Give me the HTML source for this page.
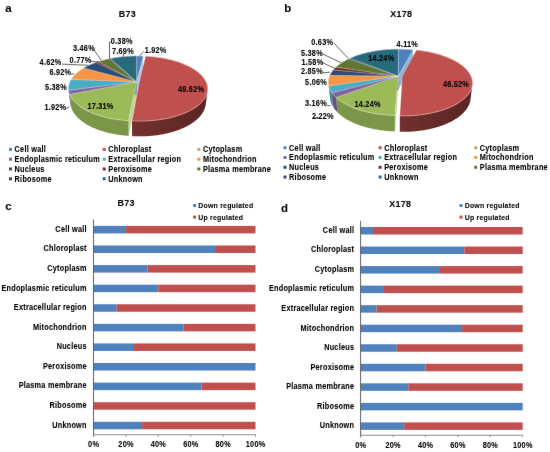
<!DOCTYPE html>
<html><head><meta charset="utf-8"><style>
html,body{margin:0;padding:0;background:#fff;width:550px;height:452px;overflow:hidden}
svg{display:block}
text{font-family:"Liberation Sans",sans-serif;font-weight:bold;stroke:#000;stroke-width:0.08px}
</style></head><body>
<svg width="550" height="452" viewBox="0 0 550 452" style="will-change:transform">
<defs><linearGradient id="a_s0" gradientUnits="userSpaceOnUse" x1="66.7" y1="0" x2="206.5" y2="0"><stop offset="0" stop-color="#3F6797"/><stop offset="0.5" stop-color="#3C6290"/><stop offset="1" stop-color="#315075"/></linearGradient>
<linearGradient id="a_s10" gradientUnits="userSpaceOnUse" x1="66.7" y1="0" x2="206.5" y2="0"><stop offset="0" stop-color="#1F5563"/><stop offset="0.5" stop-color="#1E515E"/><stop offset="1" stop-color="#18424D"/></linearGradient>
<linearGradient id="a_s9" gradientUnits="userSpaceOnUse" x1="66.7" y1="0" x2="206.5" y2="0"><stop offset="0" stop-color="#3E2F4E"/><stop offset="0.5" stop-color="#3B2D4A"/><stop offset="1" stop-color="#30253D"/></linearGradient>
<linearGradient id="a_s8" gradientUnits="userSpaceOnUse" x1="66.7" y1="0" x2="206.5" y2="0"><stop offset="0" stop-color="#4C5E26"/><stop offset="0.5" stop-color="#485924"/><stop offset="1" stop-color="#3B491E"/></linearGradient>
<linearGradient id="a_s7" gradientUnits="userSpaceOnUse" x1="66.7" y1="0" x2="206.5" y2="0"><stop offset="0" stop-color="#5F2322"/><stop offset="0.5" stop-color="#5A2120"/><stop offset="1" stop-color="#4A1B1A"/></linearGradient>
<linearGradient id="a_s6" gradientUnits="userSpaceOnUse" x1="66.7" y1="0" x2="206.5" y2="0"><stop offset="0" stop-color="#233E5E"/><stop offset="0.5" stop-color="#213B59"/><stop offset="1" stop-color="#1B3049"/></linearGradient>
<linearGradient id="a_s5" gradientUnits="userSpaceOnUse" x1="66.7" y1="0" x2="206.5" y2="0"><stop offset="0" stop-color="#C67838"/><stop offset="0.5" stop-color="#BC7235"/><stop offset="1" stop-color="#995D2B"/></linearGradient>
<linearGradient id="a_s4" gradientUnits="userSpaceOnUse" x1="66.7" y1="0" x2="206.5" y2="0"><stop offset="0" stop-color="#3C8A9E"/><stop offset="0.5" stop-color="#398396"/><stop offset="1" stop-color="#2E6B7B"/></linearGradient>
<linearGradient id="a_s1" gradientUnits="userSpaceOnUse" x1="66.7" y1="0" x2="206.5" y2="0"><stop offset="0" stop-color="#73302E"/><stop offset="0.5" stop-color="#73302E"/><stop offset="1" stop-color="#582523"/></linearGradient>
<linearGradient id="a_s3" gradientUnits="userSpaceOnUse" x1="66.7" y1="0" x2="206.5" y2="0"><stop offset="0" stop-color="#665082"/><stop offset="0.5" stop-color="#614C7B"/><stop offset="1" stop-color="#4F3E64"/></linearGradient>
<linearGradient id="a_s2" gradientUnits="userSpaceOnUse" x1="66.7" y1="0" x2="206.5" y2="0"><stop offset="0" stop-color="#7C9647"/><stop offset="0.5" stop-color="#7C9647"/><stop offset="1" stop-color="#708740"/></linearGradient>
<linearGradient id="b_s0" gradientUnits="userSpaceOnUse" x1="326.2" y1="0" x2="470.2" y2="0"><stop offset="0" stop-color="#3F6797"/><stop offset="0.5" stop-color="#3C6290"/><stop offset="1" stop-color="#315075"/></linearGradient>
<linearGradient id="b_s10" gradientUnits="userSpaceOnUse" x1="326.2" y1="0" x2="470.2" y2="0"><stop offset="0" stop-color="#1F5563"/><stop offset="0.5" stop-color="#1E515E"/><stop offset="1" stop-color="#18424D"/></linearGradient>
<linearGradient id="b_s9" gradientUnits="userSpaceOnUse" x1="326.2" y1="0" x2="470.2" y2="0"><stop offset="0" stop-color="#3E2F4E"/><stop offset="0.5" stop-color="#3B2D4A"/><stop offset="1" stop-color="#30253D"/></linearGradient>
<linearGradient id="b_s8" gradientUnits="userSpaceOnUse" x1="326.2" y1="0" x2="470.2" y2="0"><stop offset="0" stop-color="#4C5E26"/><stop offset="0.5" stop-color="#485924"/><stop offset="1" stop-color="#3B491E"/></linearGradient>
<linearGradient id="b_s7" gradientUnits="userSpaceOnUse" x1="326.2" y1="0" x2="470.2" y2="0"><stop offset="0" stop-color="#5F2322"/><stop offset="0.5" stop-color="#5A2120"/><stop offset="1" stop-color="#4A1B1A"/></linearGradient>
<linearGradient id="b_s6" gradientUnits="userSpaceOnUse" x1="326.2" y1="0" x2="470.2" y2="0"><stop offset="0" stop-color="#233E5E"/><stop offset="0.5" stop-color="#213B59"/><stop offset="1" stop-color="#1B3049"/></linearGradient>
<linearGradient id="b_s5" gradientUnits="userSpaceOnUse" x1="326.2" y1="0" x2="470.2" y2="0"><stop offset="0" stop-color="#C67838"/><stop offset="0.5" stop-color="#BC7235"/><stop offset="1" stop-color="#995D2B"/></linearGradient>
<linearGradient id="b_s1" gradientUnits="userSpaceOnUse" x1="326.2" y1="0" x2="470.2" y2="0"><stop offset="0" stop-color="#73302E"/><stop offset="0.5" stop-color="#73302E"/><stop offset="1" stop-color="#582523"/></linearGradient>
<linearGradient id="b_s4" gradientUnits="userSpaceOnUse" x1="326.2" y1="0" x2="470.2" y2="0"><stop offset="0" stop-color="#3C8A9E"/><stop offset="0.5" stop-color="#398396"/><stop offset="1" stop-color="#2E6B7B"/></linearGradient>
<linearGradient id="b_s3" gradientUnits="userSpaceOnUse" x1="326.2" y1="0" x2="470.2" y2="0"><stop offset="0" stop-color="#665082"/><stop offset="0.5" stop-color="#614C7B"/><stop offset="1" stop-color="#4F3E64"/></linearGradient>
<linearGradient id="b_s2" gradientUnits="userSpaceOnUse" x1="326.2" y1="0" x2="470.2" y2="0"><stop offset="0" stop-color="#7C9647"/><stop offset="0.5" stop-color="#7C9647"/><stop offset="1" stop-color="#708740"/></linearGradient><filter id="soft" x="0" y="0" width="550" height="452" filterUnits="userSpaceOnUse" color-interpolation-filters="sRGB"><feConvolveMatrix order="3" kernelMatrix="0.005 0.04 0.005 0.04 0.82 0.04 0.005 0.04 0.005" preserveAlpha="false" edgeMode="duplicate"/></filter></defs>
<rect width="550" height="452" fill="#fff"/>
<g filter="url(#soft)">
<rect width="550" height="452" fill="#fff"/>
<polygon points="136.60,81.70 143.24,56.18 143.11,67.61 136.60,94.81" fill="#B0C6E1"/>
<polygon points="136.60,81.70 128.46,120.62 128.71,135.86 136.60,94.81" fill="#BED393"/>
<polygon points="136.60,81.70 69.66,94.37 71.42,108.23 136.60,94.81" fill="#B3A2C7"/>
<polygon points="136.60,81.70 68.62,90.30 70.37,103.93 136.60,94.81" fill="#93CDDD"/>
<polygon points="136.60,81.70 71.17,79.48 72.73,92.45 136.60,94.81" fill="#FAC090"/>
<polygon points="136.60,81.70 83.74,68.01 84.91,80.25 136.60,94.81" fill="#8094AC"/>
<polygon points="136.60,81.70 96.12,62.38 96.98,74.24 136.60,94.81" fill="#AD807F"/>
<polygon points="136.60,81.70 98.41,61.61 99.21,73.41 136.60,94.81" fill="#9FAC83"/>
<polygon points="136.60,81.70 109.23,58.76 109.80,70.37 136.60,94.81" fill="#9489A1"/>
<polygon points="136.60,81.70 110.47,58.51 111.01,70.10 136.60,94.81" fill="#7DA6B0"/>
<polygon points="207.52,91.05 207.47,91.35 207.42,91.64 207.37,91.93 207.31,92.23 207.24,92.52 207.17,92.82 207.09,93.11 207.01,93.41 206.92,93.70 206.82,94.00 206.72,94.29 206.61,94.59 206.50,94.88 206.38,95.18 206.25,95.47 206.12,95.77 205.98,96.06 205.84,96.36 205.69,96.65 205.53,96.95 205.37,97.24 205.20,97.53 205.03,97.83 204.85,98.12 204.66,98.42 204.47,98.71 204.27,99.00 204.07,99.29 203.86,99.58 203.64,99.87 203.41,100.17 203.18,100.46 202.95,100.74 202.71,101.03 202.46,101.32 202.20,101.61 201.94,101.90 201.67,102.18 201.40,102.47 201.12,102.75 200.83,103.03 200.54,103.32 200.24,103.60 199.94,103.88 199.63,104.16 199.31,104.44 198.99,104.72 198.66,104.99 198.32,105.27 197.98,105.54 197.63,105.81 197.27,106.09 196.91,106.36 196.54,106.63 196.17,106.89 195.79,107.16 195.40,107.42 195.01,107.69 194.61,107.95 194.21,108.21 193.80,108.47 193.38,108.73 192.96,108.98 192.53,109.23 192.09,109.49 191.65,109.74 191.21,109.99 190.75,110.23 190.29,110.48 189.83,110.72 189.36,110.96 188.88,111.20 188.40,111.44 187.91,111.67 187.42,111.90 186.92,112.13 186.42,112.36 185.91,112.59 185.39,112.81 184.87,113.03 184.34,113.25 183.81,113.47 183.27,113.68 182.73,113.90 182.18,114.11 181.63,114.31 181.07,114.52 180.51,114.72 179.94,114.92 179.37,115.11 178.79,115.31 178.20,115.50 177.62,115.69 177.02,115.87 176.43,116.06 175.82,116.24 175.22,116.42 174.60,116.59 173.99,116.76 173.37,116.93 172.74,117.10 172.12,117.26 171.48,117.42 170.85,117.57 170.20,117.73 169.56,117.88 168.91,118.02 168.26,118.17 167.60,118.31 166.94,118.45 166.28,118.58 165.61,118.71 164.94,118.84 164.27,118.96 163.59,119.09 162.91,119.20 162.22,119.32 161.54,119.43 160.85,119.53 160.16,119.64 159.46,119.74 158.76,119.84 158.06,119.93 157.36,120.02 156.66,120.11 155.95,120.19 155.24,120.27 154.53,120.34 153.82,120.41 153.10,120.48 152.38,120.55 151.66,120.61 150.94,120.67 150.22,120.72 149.50,120.77 148.77,120.81 148.05,120.86 147.32,120.90 146.59,120.93 145.86,120.96 145.13,120.99 144.40,121.01 143.67,121.03 142.94,121.05 142.21,121.06 141.47,121.07 140.74,121.08 140.01,121.08 139.27,121.08 138.54,121.07 137.81,121.06 137.07,121.05 136.34,121.03 135.61,121.01 134.88,120.98 134.15,120.95 133.42,120.92 132.69,120.89 131.96,120.85 132.10,136.10 132.81,136.14 133.51,136.18 134.22,136.21 134.93,136.24 135.64,136.27 136.35,136.29 137.06,136.31 137.77,136.32 138.48,136.33 139.19,136.34 139.90,136.34 140.61,136.34 141.32,136.34 142.03,136.33 142.75,136.31 143.45,136.30 144.16,136.28 144.87,136.25 145.58,136.22 146.29,136.19 146.99,136.15 147.70,136.11 148.40,136.07 149.10,136.02 149.81,135.97 150.51,135.91 151.21,135.85 151.90,135.79 152.60,135.72 153.29,135.65 153.98,135.57 154.67,135.49 155.36,135.41 156.05,135.32 156.73,135.23 157.41,135.14 158.09,135.04 158.77,134.94 159.44,134.83 160.11,134.72 160.78,134.61 161.45,134.50 162.11,134.38 162.77,134.25 163.43,134.13 164.08,134.00 164.73,133.86 165.38,133.72 166.03,133.58 166.67,133.44 167.30,133.29 167.94,133.14 168.57,132.99 169.19,132.83 169.82,132.67 170.44,132.50 171.05,132.34 171.66,132.17 172.27,131.99 172.87,131.82 173.47,131.64 174.06,131.45 174.65,131.27 175.24,131.08 175.82,130.88 176.40,130.69 176.97,130.49 177.54,130.29 178.10,130.09 178.66,129.88 179.21,129.67 179.76,129.46 180.30,129.24 180.84,129.03 181.37,128.81 181.90,128.58 182.42,128.36 182.94,128.13 183.46,127.90 183.96,127.67 184.47,127.43 184.96,127.20 185.45,126.96 185.94,126.71 186.42,126.47 186.90,126.22 187.37,125.97 187.83,125.72 188.29,125.47 188.74,125.21 189.19,124.96 189.63,124.70 190.07,124.44 190.50,124.17 190.92,123.91 191.34,123.64 191.75,123.37 192.16,123.10 192.56,122.83 192.96,122.55 193.35,122.28 193.73,122.00 194.11,121.72 194.48,121.44 194.85,121.16 195.21,120.88 195.56,120.59 195.91,120.31 196.25,120.02 196.59,119.73 196.92,119.44 197.24,119.15 197.56,118.86 197.87,118.56 198.17,118.27 198.47,117.97 198.77,117.68 199.05,117.38 199.33,117.08 199.61,116.78 199.88,116.48 200.14,116.18 200.40,115.88 200.65,115.57 200.89,115.27 201.13,114.96 201.37,114.66 201.59,114.35 201.81,114.05 202.03,113.74 202.24,113.43 202.44,113.12 202.64,112.81 202.83,112.51 203.01,112.20 203.19,111.89 203.36,111.58 203.53,111.26 203.69,110.95 203.84,110.64 203.99,110.33 204.14,110.02 204.27,109.71 204.40,109.40 204.53,109.08 204.65,108.77 204.76,108.46 204.87,108.15 204.97,107.84 205.07,107.53 205.16,107.21 205.25,106.90 205.33,106.59 205.40,106.28 205.47,105.97 205.53,105.66 205.59,105.35 205.64,105.04 205.69,104.73" fill="url(#a_s1)"/>
<polygon points="69.66,94.37 69.55,94.07 69.44,93.78 69.34,93.49 69.25,93.20 69.16,92.91 69.08,92.62 69.00,92.33 68.93,92.04 68.87,91.75 68.81,91.46 68.75,91.17 68.70,90.88 68.66,90.59 70.41,104.23 70.46,104.54 70.51,104.85 70.56,105.15 70.62,105.46 70.69,105.77 70.76,106.07 70.84,106.38 70.92,106.69 71.01,107.00 71.11,107.30 71.21,107.61 71.31,107.92 71.42,108.23" fill="url(#a_s3)"/>
<polygon points="128.46,120.62 127.73,120.58 127.01,120.53 126.29,120.48 125.57,120.42 124.85,120.37 124.13,120.30 123.41,120.24 122.70,120.17 121.99,120.10 121.27,120.02 120.57,119.94 119.86,119.86 119.15,119.77 118.45,119.68 117.75,119.59 117.06,119.49 116.36,119.39 115.67,119.28 114.98,119.18 114.29,119.06 113.61,118.95 112.93,118.83 112.25,118.71 111.58,118.58 110.91,118.46 110.24,118.33 109.58,118.19 108.92,118.05 108.26,117.91 107.61,117.77 106.96,117.62 106.31,117.47 105.67,117.32 105.03,117.16 104.40,117.00 103.77,116.84 103.15,116.67 102.52,116.50 101.91,116.33 101.30,116.16 100.69,115.98 100.08,115.80 99.49,115.61 98.89,115.43 98.30,115.24 97.72,115.05 97.14,114.85 96.56,114.66 95.99,114.46 95.43,114.26 94.87,114.05 94.31,113.84 93.76,113.63 93.22,113.42 92.68,113.21 92.15,112.99 91.62,112.77 91.10,112.55 90.58,112.33 90.07,112.10 89.56,111.87 89.06,111.64 88.56,111.41 88.07,111.18 87.59,110.94 87.11,110.70 86.64,110.46 86.17,110.22 85.71,109.97 85.26,109.73 84.81,109.48 84.36,109.23 83.93,108.98 83.49,108.73 83.07,108.47 82.65,108.21 82.24,107.96 81.83,107.70 81.43,107.43 81.03,107.17 80.64,106.91 80.26,106.64 79.88,106.37 79.51,106.11 79.15,105.84 78.79,105.56 78.44,105.29 78.09,105.02 77.75,104.74 77.42,104.47 77.09,104.19 76.77,103.91 76.46,103.63 76.15,103.35 75.84,103.07 75.55,102.79 75.26,102.51 74.98,102.22 74.70,101.94 74.43,101.66 74.16,101.37 73.90,101.08 73.65,100.80 73.41,100.51 73.17,100.22 72.93,99.93 72.70,99.64 72.48,99.35 72.27,99.06 72.06,98.77 71.86,98.48 71.66,98.18 71.47,97.89 71.29,97.60 71.11,97.31 70.94,97.01 70.77,96.72 70.61,96.42 70.46,96.13 70.31,95.84 70.17,95.54 70.03,95.25 69.90,94.95 69.78,94.66 69.66,94.37 71.42,108.23 71.54,108.54 71.66,108.85 71.79,109.16 71.93,109.47 72.07,109.78 72.22,110.09 72.37,110.40 72.53,110.71 72.69,111.02 72.86,111.33 73.04,111.64 73.22,111.95 73.41,112.26 73.61,112.57 73.81,112.88 74.01,113.18 74.22,113.49 74.44,113.80 74.67,114.10 74.90,114.41 75.13,114.71 75.37,115.02 75.62,115.32 75.88,115.62 76.14,115.92 76.40,116.22 76.68,116.52 76.95,116.82 77.24,117.12 77.53,117.42 77.83,117.72 78.13,118.01 78.44,118.30 78.75,118.60 79.07,118.89 79.40,119.18 79.73,119.47 80.07,119.76 80.42,120.04 80.77,120.33 81.12,120.61 81.49,120.90 81.85,121.18 82.23,121.46 82.61,121.74 83.00,122.01 83.39,122.29 83.79,122.56 84.19,122.83 84.60,123.10 85.01,123.37 85.44,123.64 85.86,123.90 86.29,124.17 86.73,124.43 87.18,124.69 87.63,124.94 88.08,125.20 88.54,125.45 89.01,125.70 89.48,125.95 89.96,126.20 90.44,126.44 90.93,126.68 91.42,126.92 91.92,127.16 92.43,127.39 92.93,127.63 93.45,127.86 93.97,128.08 94.49,128.31 95.02,128.53 95.56,128.75 96.10,128.97 96.64,129.18 97.19,129.40 97.75,129.61 98.31,129.81 98.87,130.02 99.44,130.22 100.01,130.42 100.59,130.61 101.17,130.80 101.76,130.99 102.35,131.18 102.94,131.36 103.54,131.54 104.14,131.72 104.75,131.89 105.36,132.06 105.98,132.23 106.60,132.40 107.22,132.56 107.85,132.72 108.48,132.87 109.11,133.02 109.75,133.17 110.39,133.32 111.04,133.46 111.68,133.59 112.33,133.73 112.99,133.86 113.65,133.99 114.31,134.11 114.97,134.23 115.63,134.35 116.30,134.46 116.97,134.57 117.65,134.68 118.32,134.78 119.00,134.88 119.68,134.97 120.37,135.06 121.05,135.15 121.74,135.23 122.43,135.31 123.12,135.39 123.81,135.46 124.51,135.53 125.21,135.60 125.90,135.66 126.60,135.71 127.30,135.77 128.00,135.82 128.71,135.86" fill="url(#a_s2)"/>
<polygon points="136.60,81.70 136.60,56.03 137.55,56.03 138.50,56.04 139.45,56.06 140.40,56.08 141.35,56.11 142.30,56.14 143.24,56.18" fill="#4F81BD" stroke="#FFFFFF" stroke-opacity="0.45" stroke-width="0.5" stroke-linejoin="round"/>
<polygon points="139.38,81.84 145.56,56.28 146.51,56.33 147.47,56.38 148.43,56.44 149.38,56.51 150.34,56.59 151.29,56.67 152.24,56.75 153.18,56.85 154.13,56.95 155.07,57.05 156.02,57.16 156.96,57.28 157.89,57.41 158.83,57.54 159.76,57.68 160.68,57.82 161.61,57.98 162.53,58.13 163.45,58.30 164.36,58.47 165.27,58.65 166.18,58.83 167.08,59.02 167.98,59.22 168.87,59.42 169.76,59.63 170.64,59.84 171.52,60.07 172.39,60.30 173.26,60.53 174.12,60.77 174.98,61.02 175.83,61.28 176.67,61.54 177.51,61.80 178.34,62.08 179.17,62.36 179.98,62.64 180.79,62.94 181.60,63.24 182.39,63.54 183.18,63.85 183.96,64.17 184.73,64.50 185.50,64.83 186.25,65.17 187.00,65.51 187.74,65.86 188.46,66.21 189.18,66.58 189.89,66.94 190.59,67.32 191.28,67.70 191.96,68.08 192.63,68.48 193.28,68.88 193.93,69.28 194.56,69.69 195.19,70.11 195.80,70.53 196.40,70.96 196.98,71.39 197.56,71.83 198.12,72.27 198.67,72.72 199.20,73.18 199.72,73.64 200.23,74.11 200.72,74.58 201.20,75.06 201.67,75.54 202.12,76.03 202.55,76.52 202.97,77.02 203.37,77.52 203.75,78.03 204.12,78.54 204.48,79.06 204.81,79.58 205.13,80.10 205.43,80.63 205.72,81.17 205.98,81.71 206.23,82.25 206.46,82.79 206.67,83.34 206.86,83.90 207.03,84.45 207.18,85.01 207.31,85.58 207.42,86.14 207.52,86.71 207.59,87.28 207.63,87.86 207.66,88.44 207.67,89.01 207.65,89.59 207.61,90.18 207.56,90.76 207.47,91.35 207.37,91.93 207.24,92.52 207.09,93.11 206.92,93.70 206.72,94.29 206.50,94.88 206.25,95.47 205.98,96.06 205.69,96.65 205.37,97.24 205.03,97.83 204.66,98.42 204.27,99.00 203.86,99.58 203.41,100.17 202.95,100.74 202.46,101.32 201.94,101.90 201.40,102.47 200.83,103.03 200.24,103.60 199.63,104.16 198.99,104.72 198.32,105.27 197.63,105.81 196.91,106.36 196.17,106.89 195.40,107.42 194.61,107.95 193.80,108.47 192.96,108.98 192.09,109.49 191.21,109.99 190.29,110.48 189.36,110.96 188.40,111.44 187.42,111.90 186.42,112.36 185.39,112.81 184.34,113.25 183.27,113.68 182.18,114.11 181.07,114.52 179.94,114.92 178.79,115.31 177.62,115.69 176.43,116.06 175.22,116.42 173.99,116.76 172.74,117.10 171.48,117.42 170.20,117.73 168.91,118.02 167.60,118.31 166.28,118.58 164.94,118.84 163.59,119.09 162.22,119.32 160.85,119.53 159.46,119.74 158.06,119.93 156.66,120.11 155.24,120.27 153.82,120.41 152.38,120.55 150.94,120.67 149.50,120.77 148.05,120.86 146.59,120.93 145.13,120.99 143.67,121.03 142.21,121.06 140.74,121.08 139.27,121.08 137.81,121.06 136.34,121.03 134.88,120.98 133.42,120.92 131.96,120.85" fill="#C0504D" stroke="#FFFFFF" stroke-opacity="0.45" stroke-width="0.5" stroke-linejoin="round"/>
<polygon points="136.60,81.70 128.46,120.62 127.02,120.53 125.59,120.43 124.16,120.31 122.74,120.17 121.33,120.03 119.93,119.87 118.53,119.69 117.14,119.50 115.77,119.30 114.40,119.08 113.05,118.85 111.71,118.61 110.38,118.35 109.06,118.08 107.76,117.80 106.48,117.51 105.21,117.20 103.95,116.88 102.71,116.55 101.49,116.21 100.28,115.86 99.10,115.49 97.93,115.12 96.78,114.73 95.65,114.34 94.54,113.93 93.45,113.51 92.38,113.09 91.34,112.65 90.31,112.21 89.30,111.76 88.32,111.30 87.36,110.83 86.42,110.35 85.51,109.87 84.62,109.37 83.75,108.87 82.90,108.37 82.08,107.86 81.28,107.34 80.51,106.81 79.76,106.28 79.03,105.75 78.33,105.21 77.66,104.67 77.00,104.12 76.38,103.56 75.77,103.01 75.20,102.45 74.64,101.88 74.11,101.31 73.61,100.74 73.13,100.17 72.67,99.60 72.24,99.02 71.83,98.44 71.45,97.86 71.09,97.28 70.76,96.70 70.45,96.12 70.16,95.53 69.90,94.95 69.66,94.37" fill="#9BBB59" stroke="#FFFFFF" stroke-opacity="0.45" stroke-width="0.5" stroke-linejoin="round"/>
<polygon points="136.60,81.70 69.66,94.37 69.44,93.78 69.25,93.20 69.08,92.62 68.93,92.04 68.81,91.46 68.70,90.88 68.62,90.30" fill="#8064A2" stroke="#FFFFFF" stroke-opacity="0.45" stroke-width="0.5" stroke-linejoin="round"/>
<polygon points="136.60,81.70 68.62,90.30 68.57,89.74 68.53,89.17 68.51,88.61 68.52,88.05 68.54,87.49 68.58,86.94 68.65,86.39 68.73,85.83 68.83,85.29 68.96,84.74 69.10,84.20 69.26,83.66 69.43,83.13 69.63,82.59 69.84,82.07 70.07,81.54 70.32,81.02 70.58,80.50 70.87,79.99 71.17,79.48" fill="#4BACC6" stroke="#FFFFFF" stroke-opacity="0.45" stroke-width="0.5" stroke-linejoin="round"/>
<polygon points="136.60,81.70 71.17,79.48 71.49,78.96 71.83,78.44 72.19,77.93 72.56,77.43 72.95,76.93 73.36,76.43 73.78,75.94 74.22,75.45 74.67,74.97 75.14,74.49 75.62,74.02 76.11,73.56 76.62,73.10 77.15,72.64 77.69,72.19 78.24,71.75 78.80,71.31 79.37,70.88 79.96,70.45 80.56,70.03 81.18,69.61 81.80,69.20 82.44,68.80 83.08,68.40 83.74,68.01" fill="#F79646" stroke="#FFFFFF" stroke-opacity="0.45" stroke-width="0.5" stroke-linejoin="round"/>
<polygon points="136.60,81.70 83.74,68.01 84.40,67.63 85.06,67.26 85.74,66.89 86.42,66.53 87.12,66.18 87.82,65.83 88.54,65.48 89.26,65.14 89.99,64.81 90.73,64.49 91.48,64.17 92.23,63.85 93.00,63.55 93.77,63.25 94.55,62.95 95.33,62.66 96.12,62.38" fill="#2C4D75" stroke="#FFFFFF" stroke-opacity="0.45" stroke-width="0.5" stroke-linejoin="round"/>
<polygon points="136.60,81.70 96.12,62.38 96.88,62.12 97.64,61.86 98.41,61.61" fill="#772C2A" stroke="#FFFFFF" stroke-opacity="0.45" stroke-width="0.5" stroke-linejoin="round"/>
<polygon points="136.60,81.70 98.41,61.61 99.21,61.35 100.01,61.11 100.83,60.86 101.65,60.63 102.47,60.40 103.30,60.17 104.13,59.95 104.97,59.74 105.81,59.53 106.66,59.33 107.51,59.14 108.37,58.95 109.23,58.76" fill="#5F7530" stroke="#FFFFFF" stroke-opacity="0.45" stroke-width="0.5" stroke-linejoin="round"/>
<polygon points="136.60,81.70 109.23,58.76 109.85,58.64 110.47,58.51" fill="#4D3B62" stroke="#FFFFFF" stroke-opacity="0.45" stroke-width="0.5" stroke-linejoin="round"/>
<polygon points="136.60,81.70 110.47,58.51 111.37,58.34 112.27,58.17 113.17,58.01 114.08,57.85 115.00,57.70 115.91,57.56 116.83,57.42 117.75,57.30 118.68,57.17 119.61,57.05 120.54,56.94 121.47,56.84 122.40,56.74 123.34,56.65 124.28,56.56 125.22,56.48 126.16,56.41 127.11,56.35 128.05,56.29 129.00,56.23 129.95,56.18 130.90,56.14 131.85,56.11 132.80,56.08 133.75,56.06 134.70,56.04 135.65,56.03 136.60,56.03" fill="#276A7C" stroke="#FFFFFF" stroke-opacity="0.45" stroke-width="0.5" stroke-linejoin="round"/>
<polyline points="136.60,56.03 137.55,56.03 138.50,56.04 139.45,56.06 140.40,56.08 141.35,56.11 142.30,56.14 143.24,56.18" fill="none" stroke="#95B3D7" stroke-width="0.6" stroke-opacity="0.8"/>
<polyline points="145.56,56.28 146.51,56.33 147.47,56.38 148.43,56.44 149.38,56.51 150.34,56.59 151.29,56.67 152.24,56.75 153.18,56.85 154.13,56.95 155.07,57.05 156.02,57.16 156.96,57.28 157.89,57.41 158.83,57.54 159.76,57.68 160.68,57.82 161.61,57.98 162.53,58.13 163.45,58.30 164.36,58.47 165.27,58.65 166.18,58.83 167.08,59.02 167.98,59.22 168.87,59.42 169.76,59.63 170.64,59.84 171.52,60.07 172.39,60.30 173.26,60.53 174.12,60.77 174.98,61.02 175.83,61.28 176.67,61.54 177.51,61.80 178.34,62.08 179.17,62.36 179.98,62.64 180.79,62.94 181.60,63.24 182.39,63.54 183.18,63.85 183.96,64.17 184.73,64.50 185.50,64.83 186.25,65.17 187.00,65.51 187.74,65.86 188.46,66.21 189.18,66.58 189.89,66.94 190.59,67.32 191.28,67.70 191.96,68.08 192.63,68.48 193.28,68.88 193.93,69.28 194.56,69.69 195.19,70.11 195.80,70.53 196.40,70.96 196.98,71.39 197.56,71.83 198.12,72.27 198.67,72.72 199.20,73.18 199.72,73.64 200.23,74.11 200.72,74.58 201.20,75.06 201.67,75.54 202.12,76.03 202.55,76.52 202.97,77.02 203.37,77.52 203.75,78.03 204.12,78.54 204.48,79.06 204.81,79.58 205.13,80.10 205.43,80.63 205.72,81.17 205.98,81.71 206.23,82.25 206.46,82.79 206.67,83.34 206.86,83.90 207.03,84.45 207.18,85.01 207.31,85.58 207.42,86.14 207.52,86.71 207.59,87.28 207.63,87.86 207.66,88.44 207.67,89.01 207.65,89.59 207.61,90.18 207.56,90.76 207.47,91.35 207.37,91.93 207.24,92.52 207.09,93.11 206.92,93.70 206.72,94.29 206.50,94.88 206.25,95.47 205.98,96.06 205.69,96.65 205.37,97.24 205.03,97.83 204.66,98.42 204.27,99.00 203.86,99.58 203.41,100.17 202.95,100.74 202.46,101.32 201.94,101.90 201.40,102.47 200.83,103.03 200.24,103.60 199.63,104.16 198.99,104.72 198.32,105.27 197.63,105.81 196.91,106.36 196.17,106.89 195.40,107.42 194.61,107.95 193.80,108.47 192.96,108.98 192.09,109.49 191.21,109.99 190.29,110.48 189.36,110.96 188.40,111.44 187.42,111.90 186.42,112.36 185.39,112.81 184.34,113.25 183.27,113.68 182.18,114.11 181.07,114.52 179.94,114.92 178.79,115.31 177.62,115.69 176.43,116.06 175.22,116.42 173.99,116.76 172.74,117.10 171.48,117.42 170.20,117.73 168.91,118.02 167.60,118.31 166.28,118.58 164.94,118.84 163.59,119.09 162.22,119.32 160.85,119.53 159.46,119.74 158.06,119.93 156.66,120.11 155.24,120.27 153.82,120.41 152.38,120.55 150.94,120.67 149.50,120.77 148.05,120.86 146.59,120.93 145.13,120.99 143.67,121.03 142.21,121.06 140.74,121.08 139.27,121.08 137.81,121.06 136.34,121.03 134.88,120.98 133.42,120.92 131.96,120.85" fill="none" stroke="#D99694" stroke-width="0.6" stroke-opacity="0.8"/>
<polyline points="128.46,120.62 127.02,120.53 125.59,120.43 124.16,120.31 122.74,120.17 121.33,120.03 119.93,119.87 118.53,119.69 117.14,119.50 115.77,119.30 114.40,119.08 113.05,118.85 111.71,118.61 110.38,118.35 109.06,118.08 107.76,117.80 106.48,117.51 105.21,117.20 103.95,116.88 102.71,116.55 101.49,116.21 100.28,115.86 99.10,115.49 97.93,115.12 96.78,114.73 95.65,114.34 94.54,113.93 93.45,113.51 92.38,113.09 91.34,112.65 90.31,112.21 89.30,111.76 88.32,111.30 87.36,110.83 86.42,110.35 85.51,109.87 84.62,109.37 83.75,108.87 82.90,108.37 82.08,107.86 81.28,107.34 80.51,106.81 79.76,106.28 79.03,105.75 78.33,105.21 77.66,104.67 77.00,104.12 76.38,103.56 75.77,103.01 75.20,102.45 74.64,101.88 74.11,101.31 73.61,100.74 73.13,100.17 72.67,99.60 72.24,99.02 71.83,98.44 71.45,97.86 71.09,97.28 70.76,96.70 70.45,96.12 70.16,95.53 69.90,94.95 69.66,94.37" fill="none" stroke="#C3D69B" stroke-width="0.6" stroke-opacity="0.8"/>
<polyline points="69.66,94.37 69.44,93.78 69.25,93.20 69.08,92.62 68.93,92.04 68.81,91.46 68.70,90.88 68.62,90.30" fill="none" stroke="#B3A2C7" stroke-width="0.6" stroke-opacity="0.8"/>
<polyline points="68.62,90.30 68.57,89.74 68.53,89.17 68.51,88.61 68.52,88.05 68.54,87.49 68.58,86.94 68.65,86.39 68.73,85.83 68.83,85.29 68.96,84.74 69.10,84.20 69.26,83.66 69.43,83.13 69.63,82.59 69.84,82.07 70.07,81.54 70.32,81.02 70.58,80.50 70.87,79.99 71.17,79.48" fill="none" stroke="#93CDDD" stroke-width="0.6" stroke-opacity="0.8"/>
<polyline points="71.17,79.48 71.49,78.96 71.83,78.44 72.19,77.93 72.56,77.43 72.95,76.93 73.36,76.43 73.78,75.94 74.22,75.45 74.67,74.97 75.14,74.49 75.62,74.02 76.11,73.56 76.62,73.10 77.15,72.64 77.69,72.19 78.24,71.75 78.80,71.31 79.37,70.88 79.96,70.45 80.56,70.03 81.18,69.61 81.80,69.20 82.44,68.80 83.08,68.40 83.74,68.01" fill="none" stroke="#FAC090" stroke-width="0.6" stroke-opacity="0.8"/>
<polyline points="83.74,68.01 84.40,67.63 85.06,67.26 85.74,66.89 86.42,66.53 87.12,66.18 87.82,65.83 88.54,65.48 89.26,65.14 89.99,64.81 90.73,64.49 91.48,64.17 92.23,63.85 93.00,63.55 93.77,63.25 94.55,62.95 95.33,62.66 96.12,62.38" fill="none" stroke="#8094AC" stroke-width="0.6" stroke-opacity="0.8"/>
<polyline points="96.12,62.38 96.88,62.12 97.64,61.86 98.41,61.61" fill="none" stroke="#AD807F" stroke-width="0.6" stroke-opacity="0.8"/>
<polyline points="98.41,61.61 99.21,61.35 100.01,61.11 100.83,60.86 101.65,60.63 102.47,60.40 103.30,60.17 104.13,59.95 104.97,59.74 105.81,59.53 106.66,59.33 107.51,59.14 108.37,58.95 109.23,58.76" fill="none" stroke="#9FAC83" stroke-width="0.6" stroke-opacity="0.8"/>
<polyline points="109.23,58.76 109.85,58.64 110.47,58.51" fill="none" stroke="#9489A1" stroke-width="0.6" stroke-opacity="0.8"/>
<polyline points="110.47,58.51 111.37,58.34 112.27,58.17 113.17,58.01 114.08,57.85 115.00,57.70 115.91,57.56 116.83,57.42 117.75,57.30 118.68,57.17 119.61,57.05 120.54,56.94 121.47,56.84 122.40,56.74 123.34,56.65 124.28,56.56 125.22,56.48 126.16,56.41 127.11,56.35 128.05,56.29 129.00,56.23 129.95,56.18 130.90,56.14 131.85,56.11 132.80,56.08 133.75,56.06 134.70,56.04 135.65,56.03 136.60,56.03" fill="none" stroke="#7DA6B0" stroke-width="0.6" stroke-opacity="0.8"/>
<polygon points="398.20,76.00 413.00,49.92 412.71,62.19 398.20,89.88" fill="#95B3D7"/>
<polygon points="398.20,76.00 394.82,115.41 394.92,131.35 398.20,89.88" fill="#C3D69B"/>
<polygon points="398.20,76.00 335.98,97.39 337.58,112.45 398.20,89.88" fill="#B3A2C7"/>
<polygon points="398.20,76.00 331.87,92.73 333.54,107.54 398.20,89.88" fill="#93CDDD"/>
<polygon points="398.20,76.00 328.74,85.93 330.42,100.38 398.20,89.88" fill="#FAC090"/>
<polygon points="398.20,76.00 329.87,75.37 331.43,89.21 398.20,89.88" fill="#8094AC"/>
<polygon points="398.20,76.00 333.39,69.91 334.82,83.44 398.20,89.88" fill="#AD807F"/>
<polygon points="398.20,76.00 336.10,67.11 337.45,80.46 398.20,89.88" fill="#9FAC83"/>
<polygon points="398.20,76.00 348.63,58.95 349.66,71.80 398.20,89.88" fill="#9489A1"/>
<polygon points="398.20,76.00 350.38,58.14 351.36,70.94 398.20,89.88" fill="#7DA6B0"/>
<polygon points="328.74,85.93 328.68,85.64 328.62,85.35 328.56,85.05 328.51,84.76 328.47,84.46 328.43,84.17 330.11,98.52 330.15,98.83 330.19,99.13 330.24,99.44 330.30,99.75 330.36,100.07 330.42,100.38" fill="url(#b_s5)"/>
<polygon points="472.28,85.18 472.24,85.48 472.19,85.78 472.13,86.08 472.07,86.38 472.01,86.68 471.93,86.98 471.85,87.28 471.77,87.58 471.68,87.89 471.58,88.19 471.48,88.49 471.37,88.79 471.25,89.09 471.13,89.39 471.00,89.69 470.87,89.99 470.73,90.29 470.59,90.59 470.43,90.89 470.28,91.19 470.11,91.49 469.94,91.79 469.77,92.09 469.58,92.39 469.39,92.69 469.20,92.98 469.00,93.28 468.79,93.58 468.58,93.87 468.36,94.17 468.13,94.47 467.90,94.76 467.66,95.05 467.41,95.35 467.16,95.64 466.90,95.93 466.64,96.22 466.37,96.51 466.09,96.80 465.81,97.09 465.52,97.38 465.23,97.67 464.92,97.95 464.62,98.24 464.30,98.52 463.98,98.80 463.65,99.09 463.32,99.37 462.98,99.65 462.63,99.92 462.28,100.20 461.92,100.48 461.56,100.75 461.19,101.02 460.81,101.29 460.43,101.56 460.04,101.83 459.64,102.10 459.24,102.37 458.83,102.63 458.42,102.89 458.00,103.15 457.57,103.41 457.14,103.67 456.70,103.93 456.26,104.18 455.81,104.43 455.35,104.68 454.89,104.93 454.43,105.18 453.95,105.42 453.47,105.66 452.99,105.90 452.50,106.14 452.00,106.38 451.50,106.61 450.99,106.84 450.48,107.07 449.96,107.30 449.43,107.53 448.90,107.75 448.37,107.97 447.83,108.19 447.28,108.40 446.73,108.62 446.18,108.83 445.62,109.03 445.05,109.24 444.48,109.44 443.90,109.64 443.32,109.84 442.73,110.04 442.14,110.23 441.55,110.42 440.95,110.60 440.34,110.79 439.73,110.97 439.12,111.15 438.50,111.32 437.87,111.50 437.25,111.67 436.61,111.83 435.98,112.00 435.34,112.16 434.69,112.31 434.05,112.47 433.39,112.62 432.74,112.77 432.08,112.91 431.41,113.05 430.75,113.19 430.08,113.33 429.40,113.46 428.73,113.59 428.05,113.71 427.36,113.84 426.67,113.95 425.98,114.07 425.29,114.18 424.60,114.29 423.90,114.40 423.19,114.50 422.49,114.59 421.78,114.69 421.07,114.78 420.36,114.87 419.65,114.95 418.93,115.03 418.22,115.11 417.50,115.18 416.77,115.25 416.05,115.32 415.32,115.38 414.60,115.44 413.87,115.50 413.14,115.55 412.41,115.59 411.67,115.64 410.94,115.68 410.20,115.72 409.47,115.75 408.73,115.78 407.99,115.80 407.25,115.83 406.51,115.85 405.78,115.86 405.04,115.87 404.29,115.88 403.55,115.88 402.81,115.88 402.07,115.88 401.33,115.87 400.59,115.86 399.85,115.84 399.80,131.80 400.52,131.82 401.24,131.83 401.96,131.84 402.68,131.84 403.40,131.84 404.12,131.84 404.84,131.83 405.56,131.82 406.28,131.81 407.00,131.79 407.72,131.76 408.43,131.74 409.15,131.71 409.87,131.67 410.58,131.63 411.29,131.59 412.01,131.54 412.72,131.49 413.43,131.44 414.14,131.38 414.84,131.32 415.55,131.25 416.25,131.19 416.95,131.11 417.65,131.04 418.35,130.96 419.05,130.87 419.74,130.78 420.43,130.69 421.12,130.60 421.81,130.50 422.50,130.39 423.18,130.29 423.86,130.18 424.53,130.06 425.21,129.95 425.88,129.83 426.55,129.70 427.21,129.57 427.88,129.44 428.53,129.31 429.19,129.17 429.84,129.03 430.49,128.88 431.14,128.74 431.78,128.58 432.42,128.43 433.05,128.27 433.68,128.11 434.31,127.94 434.93,127.78 435.55,127.60 436.17,127.43 436.78,127.25 437.39,127.07 437.99,126.89 438.59,126.70 439.18,126.51 439.77,126.32 440.36,126.12 440.94,125.92 441.51,125.72 442.08,125.52 442.65,125.31 443.21,125.10 443.77,124.89 444.32,124.67 444.87,124.45 445.41,124.23 445.95,124.01 446.48,123.78 447.01,123.55 447.53,123.32 448.05,123.09 448.56,122.85 449.07,122.61 449.57,122.37 450.06,122.13 450.55,121.89 451.04,121.64 451.52,121.39 451.99,121.14 452.46,120.88 452.92,120.62 453.38,120.37 453.83,120.11 454.27,119.84 454.71,119.58 455.15,119.31 455.58,119.04 456.00,118.77 456.42,118.50 456.83,118.23 457.23,117.95 457.63,117.67 458.02,117.40 458.41,117.11 458.79,116.83 459.17,116.55 459.54,116.26 459.90,115.98 460.26,115.69 460.61,115.40 460.96,115.11 461.29,114.82 461.63,114.52 461.95,114.23 462.28,113.93 462.59,113.63 462.90,113.33 463.20,113.04 463.50,112.73 463.79,112.43 464.07,112.13 464.35,111.83 464.62,111.52 464.89,111.22 465.15,110.91 465.40,110.60 465.65,110.29 465.89,109.99 466.13,109.68 466.36,109.37 466.58,109.06 466.80,108.74 467.01,108.43 467.22,108.12 467.41,107.81 467.61,107.49 467.79,107.18 467.97,106.86 468.15,106.55 468.32,106.23 468.48,105.92 468.64,105.60 468.79,105.29 468.93,104.97 469.07,104.65 469.20,104.34 469.33,104.02 469.45,103.70 469.57,103.39 469.68,103.07 469.78,102.75 469.88,102.43 469.97,102.12 470.06,101.80 470.14,101.48 470.21,101.17 470.28,100.85 470.34,100.53 470.40,100.22 470.45,99.90 470.50,99.59" fill="url(#b_s1)"/>
<polygon points="331.87,92.73 331.67,92.44 331.48,92.15 331.29,91.85 331.10,91.56 330.92,91.26 330.75,90.97 330.59,90.67 330.43,90.38 330.27,90.08 330.13,89.79 329.98,89.49 329.85,89.19 329.72,88.90 329.60,88.60 329.48,88.30 329.37,88.01 329.26,87.71 329.16,87.41 329.06,87.12 328.98,86.82 328.89,86.53 328.81,86.23 328.74,85.93 330.42,100.38 330.50,100.69 330.58,101.00 330.66,101.31 330.75,101.62 330.84,101.94 330.94,102.25 331.05,102.56 331.16,102.88 331.28,103.19 331.40,103.50 331.53,103.81 331.67,104.13 331.81,104.44 331.96,104.75 332.11,105.06 332.27,105.37 332.43,105.68 332.60,105.99 332.78,106.31 332.96,106.62 333.15,106.93 333.34,107.24 333.54,107.54" fill="url(#b_s4)"/>
<polygon points="335.98,97.39 335.68,97.11 335.38,96.82 335.09,96.53 334.81,96.25 334.53,95.96 334.25,95.67 333.99,95.38 333.73,95.09 333.47,94.79 333.23,94.50 332.99,94.21 332.75,93.91 332.52,93.62 332.30,93.33 332.08,93.03 331.87,92.73 333.54,107.54 333.75,107.86 333.96,108.17 334.18,108.48 334.40,108.79 334.64,109.10 334.87,109.40 335.12,109.71 335.37,110.02 335.62,110.33 335.89,110.63 336.15,110.94 336.43,111.24 336.71,111.54 336.99,111.85 337.29,112.15 337.58,112.45" fill="url(#b_s3)"/>
<polygon points="394.82,115.41 394.09,115.39 393.35,115.37 392.62,115.34 391.89,115.31 391.15,115.28 390.42,115.24 389.69,115.20 388.96,115.16 388.23,115.11 387.51,115.06 386.78,115.00 386.06,114.94 385.34,114.88 384.62,114.81 383.90,114.75 383.18,114.67 382.47,114.60 381.75,114.52 381.04,114.43 380.33,114.35 379.63,114.25 378.92,114.16 378.22,114.06 377.52,113.96 376.82,113.86 376.13,113.75 375.44,113.64 374.75,113.52 374.06,113.41 373.38,113.29 372.70,113.16 372.03,113.03 371.35,112.90 370.68,112.77 370.02,112.63 369.36,112.49 368.70,112.35 368.04,112.20 367.39,112.05 366.74,111.90 366.10,111.74 365.46,111.58 364.82,111.42 364.19,111.26 363.56,111.09 362.94,110.92 362.32,110.74 361.70,110.57 361.09,110.39 360.49,110.21 359.89,110.02 359.29,109.83 358.70,109.64 358.11,109.45 357.52,109.25 356.95,109.05 356.37,108.85 355.81,108.65 355.24,108.44 354.68,108.24 354.13,108.02 353.58,107.81 353.04,107.60 352.50,107.38 351.97,107.16 351.44,106.93 350.92,106.71 350.40,106.48 349.89,106.25 349.39,106.02 348.89,105.79 348.39,105.55 347.90,105.31 347.42,105.07 346.94,104.83 346.47,104.59 346.01,104.34 345.55,104.09 345.09,103.84 344.64,103.59 344.20,103.34 343.76,103.08 343.33,102.83 342.91,102.57 342.49,102.31 342.07,102.05 341.67,101.78 341.27,101.52 340.87,101.25 340.48,100.99 340.10,100.72 339.72,100.45 339.35,100.18 338.99,99.90 338.63,99.63 338.28,99.35 337.93,99.08 337.59,98.80 337.26,98.52 336.93,98.24 336.61,97.96 336.29,97.68 335.98,97.39 337.58,112.45 337.89,112.74 338.20,113.04 338.51,113.34 338.83,113.63 339.16,113.92 339.49,114.22 339.83,114.51 340.18,114.80 340.53,115.09 340.89,115.37 341.25,115.66 341.62,115.94 341.99,116.22 342.38,116.51 342.76,116.79 343.15,117.06 343.55,117.34 343.96,117.61 344.37,117.89 344.78,118.16 345.20,118.43 345.63,118.70 346.06,118.96 346.50,119.23 346.95,119.49 347.40,119.75 347.85,120.01 348.31,120.26 348.78,120.52 349.25,120.77 349.73,121.02 350.21,121.26 350.70,121.51 351.19,121.75 351.69,121.99 352.19,122.23 352.70,122.47 353.22,122.70 353.74,122.93 354.26,123.16 354.79,123.39 355.33,123.61 355.87,123.83 356.41,124.05 356.96,124.27 357.51,124.48 358.07,124.69 358.64,124.90 359.20,125.11 359.78,125.31 360.35,125.51 360.94,125.71 361.52,125.90 362.11,126.09 362.71,126.28 363.31,126.46 363.91,126.65 364.52,126.82 365.13,127.00 365.74,127.17 366.36,127.34 366.98,127.51 367.61,127.67 368.24,127.83 368.88,127.99 369.51,128.14 370.16,128.29 370.80,128.44 371.45,128.59 372.10,128.73 372.75,128.86 373.41,129.00 374.07,129.13 374.74,129.25 375.40,129.38 376.07,129.50 376.75,129.61 377.42,129.73 378.10,129.83 378.78,129.94 379.46,130.04 380.14,130.14 380.83,130.24 381.52,130.33 382.21,130.41 382.91,130.50 383.60,130.58 384.30,130.65 385.00,130.73 385.70,130.80 386.40,130.86 387.10,130.92 387.81,130.98 388.51,131.03 389.22,131.08 389.93,131.13 390.64,131.17 391.35,131.21 392.06,131.25 392.78,131.28 393.49,131.31 394.20,131.33 394.92,131.35" fill="url(#b_s2)"/>
<polygon points="398.20,76.00 398.20,49.16 399.19,49.17 400.18,49.18 401.18,49.19 402.17,49.22 403.16,49.25 404.15,49.29 405.14,49.33 406.13,49.38 407.11,49.44 408.10,49.50 409.08,49.57 410.06,49.65 411.04,49.73 412.02,49.82 413.00,49.92" fill="#4F81BD" stroke="#FFFFFF" stroke-opacity="0.45" stroke-width="0.5" stroke-linejoin="round"/>
<polygon points="402.28,76.29 416.46,50.12 417.45,50.22 418.44,50.34 419.42,50.46 420.40,50.58 421.38,50.71 422.35,50.85 423.32,51.00 424.29,51.15 425.26,51.31 426.22,51.48 427.17,51.65 428.13,51.83 429.07,52.02 430.02,52.21 430.96,52.41 431.89,52.62 432.82,52.83 433.75,53.05 434.66,53.28 435.58,53.51 436.49,53.75 437.39,54.00 438.28,54.26 439.17,54.52 440.06,54.79 440.93,55.06 441.80,55.34 442.66,55.63 443.52,55.92 444.36,56.22 445.20,56.53 446.03,56.85 446.86,57.17 447.67,57.49 448.48,57.83 449.28,58.17 450.06,58.51 450.84,58.87 451.61,59.23 452.37,59.59 453.12,59.97 453.86,60.34 454.59,60.73 455.31,61.12 456.02,61.52 456.71,61.92 457.40,62.33 458.07,62.75 458.73,63.17 459.38,63.60 460.02,64.03 460.64,64.47 461.25,64.92 461.85,65.37 462.44,65.82 463.01,66.29 463.56,66.75 464.10,67.23 464.63,67.71 465.15,68.19 465.64,68.68 466.13,69.18 466.59,69.68 467.05,70.18 467.48,70.69 467.90,71.21 468.30,71.73 468.69,72.25 469.06,72.78 469.41,73.31 469.74,73.85 470.05,74.39 470.35,74.94 470.63,75.49 470.89,76.04 471.13,76.60 471.35,77.16 471.55,77.73 471.73,78.30 471.89,78.87 472.03,79.44 472.15,80.02 472.25,80.60 472.33,81.18 472.39,81.77 472.42,82.36 472.44,82.95 472.43,83.54 472.40,84.13 472.34,84.73 472.27,85.32 472.17,85.92 472.04,86.52 471.90,87.12 471.73,87.72 471.54,88.32 471.32,88.91 471.08,89.51 470.81,90.11 470.53,90.71 470.21,91.31 469.87,91.91 469.51,92.50 469.12,93.10 468.71,93.69 468.27,94.28 467.81,94.87 467.33,95.45 466.81,96.03 466.28,96.61 465.71,97.19 465.13,97.76 464.51,98.33 463.88,98.89 463.21,99.45 462.53,100.01 461.81,100.56 461.08,101.10 460.32,101.64 459.53,102.18 458.72,102.70 457.88,103.22 457.03,103.74 456.14,104.25 455.24,104.75 454.31,105.24 453.35,105.72 452.38,106.20 451.38,106.67 450.36,107.12 449.32,107.57 448.25,108.02 447.17,108.45 446.06,108.87 444.94,109.28 443.79,109.68 442.62,110.07 441.44,110.45 440.24,110.82 439.01,111.18 437.77,111.52 436.52,111.86 435.24,112.18 433.95,112.49 432.65,112.79 431.33,113.07 429.99,113.34 428.64,113.60 427.28,113.85 425.91,114.08 424.52,114.30 423.13,114.51 421.72,114.70 420.30,114.88 418.88,115.04 417.44,115.19 416.00,115.32 414.55,115.44 413.10,115.55 411.64,115.64 410.17,115.72 408.70,115.78 407.23,115.83 405.76,115.86 404.28,115.88 402.80,115.88 401.33,115.87 399.85,115.84" fill="#C0504D" stroke="#FFFFFF" stroke-opacity="0.45" stroke-width="0.5" stroke-linejoin="round"/>
<polygon points="398.20,76.00 394.82,115.41 393.37,115.37 391.91,115.31 390.46,115.24 389.02,115.16 387.58,115.06 386.14,114.95 384.71,114.82 383.29,114.68 381.88,114.53 380.47,114.36 379.07,114.18 377.68,113.99 376.30,113.78 374.94,113.56 373.58,113.32 372.23,113.07 370.90,112.81 369.58,112.54 368.28,112.26 366.99,111.96 365.72,111.65 364.46,111.33 363.21,110.99 361.99,110.65 360.78,110.29 359.59,109.93 358.41,109.55 357.26,109.16 356.12,108.76 355.00,108.36 353.91,107.94 352.83,107.51 351.78,107.08 350.74,106.63 349.73,106.18 348.73,105.71 347.76,105.24 346.82,104.76 345.89,104.28 344.99,103.79 344.11,103.29 343.25,102.78 342.42,102.26 341.61,101.74 340.82,101.22 340.06,100.69 339.32,100.15 338.60,99.61 337.91,99.06 337.24,98.51 336.60,97.95 335.98,97.39" fill="#9BBB59" stroke="#FFFFFF" stroke-opacity="0.45" stroke-width="0.5" stroke-linejoin="round"/>
<polygon points="398.20,76.00 335.98,97.39 335.38,96.82 334.81,96.25 334.25,95.67 333.73,95.09 333.23,94.50 332.75,93.91 332.30,93.33 331.87,92.73" fill="#8064A2" stroke="#FFFFFF" stroke-opacity="0.45" stroke-width="0.5" stroke-linejoin="round"/>
<polygon points="398.20,76.00 331.87,92.73 331.49,92.17 331.13,91.61 330.80,91.04 330.48,90.48 330.19,89.91 329.92,89.34 329.67,88.77 329.44,88.20 329.23,87.64 329.05,87.07 328.89,86.50 328.74,85.93" fill="#4BACC6" stroke="#FFFFFF" stroke-opacity="0.45" stroke-width="0.5" stroke-linejoin="round"/>
<polygon points="398.20,76.00 328.74,85.93 328.62,85.36 328.52,84.79 328.44,84.22 328.38,83.65 328.34,83.08 328.32,82.51 328.33,81.95 328.35,81.39 328.39,80.83 328.46,80.27 328.54,79.71 328.64,79.16 328.76,78.61 328.90,78.06 329.06,77.51 329.23,76.97 329.43,76.43 329.64,75.90 329.87,75.37" fill="#F79646" stroke="#FFFFFF" stroke-opacity="0.45" stroke-width="0.5" stroke-linejoin="round"/>
<polygon points="398.20,76.00 329.87,75.37 330.11,74.85 330.37,74.34 330.65,73.83 330.94,73.33 331.24,72.83 331.56,72.33 331.90,71.84 332.25,71.35 332.62,70.87 333.00,70.39 333.39,69.91" fill="#2C4D75" stroke="#FFFFFF" stroke-opacity="0.45" stroke-width="0.5" stroke-linejoin="round"/>
<polygon points="398.20,76.00 333.39,69.91 333.81,69.43 334.24,68.96 334.68,68.49 335.14,68.03 335.62,67.56 336.10,67.11" fill="#772C2A" stroke="#FFFFFF" stroke-opacity="0.45" stroke-width="0.5" stroke-linejoin="round"/>
<polygon points="398.20,76.00 336.10,67.11 336.61,66.65 337.14,66.19 337.67,65.74 338.23,65.30 338.79,64.86 339.37,64.43 339.95,64.00 340.55,63.57 341.17,63.16 341.79,62.75 342.43,62.34 343.08,61.94 343.73,61.54 344.40,61.16 345.08,60.77 345.77,60.40 346.47,60.02 347.18,59.66 347.90,59.30 348.63,58.95" fill="#5F7530" stroke="#FFFFFF" stroke-opacity="0.45" stroke-width="0.5" stroke-linejoin="round"/>
<polygon points="398.20,76.00 348.63,58.95 349.21,58.67 349.79,58.41 350.38,58.14" fill="#4D3B62" stroke="#FFFFFF" stroke-opacity="0.45" stroke-width="0.5" stroke-linejoin="round"/>
<polygon points="398.20,76.00 350.38,58.14 351.15,57.80 351.93,57.47 352.73,57.14 353.53,56.82 354.33,56.51 355.15,56.20 355.97,55.90 356.81,55.61 357.65,55.32 358.49,55.04 359.35,54.76 360.21,54.49 361.07,54.23 361.95,53.97 362.83,53.73 363.71,53.48 364.60,53.25 365.50,53.02 366.40,52.79 367.31,52.58 368.23,52.37 369.15,52.17 370.07,51.97 371.00,51.78 371.93,51.60 372.87,51.42 373.81,51.25 374.75,51.09 375.70,50.93 376.65,50.78 377.61,50.64 378.57,50.50 379.53,50.37 380.50,50.25 381.47,50.13 382.44,50.02 383.41,49.92 384.39,49.82 385.36,49.73 386.34,49.65 387.32,49.57 388.31,49.50 389.29,49.44 390.28,49.38 391.27,49.33 392.25,49.28 393.24,49.25 394.23,49.22 395.23,49.19 396.22,49.18 397.21,49.17 398.20,49.16" fill="#276A7C" stroke="#FFFFFF" stroke-opacity="0.45" stroke-width="0.5" stroke-linejoin="round"/>
<polyline points="398.20,49.16 399.19,49.17 400.18,49.18 401.18,49.19 402.17,49.22 403.16,49.25 404.15,49.29 405.14,49.33 406.13,49.38 407.11,49.44 408.10,49.50 409.08,49.57 410.06,49.65 411.04,49.73 412.02,49.82 413.00,49.92" fill="none" stroke="#95B3D7" stroke-width="0.6" stroke-opacity="0.8"/>
<polyline points="416.46,50.12 417.45,50.22 418.44,50.34 419.42,50.46 420.40,50.58 421.38,50.71 422.35,50.85 423.32,51.00 424.29,51.15 425.26,51.31 426.22,51.48 427.17,51.65 428.13,51.83 429.07,52.02 430.02,52.21 430.96,52.41 431.89,52.62 432.82,52.83 433.75,53.05 434.66,53.28 435.58,53.51 436.49,53.75 437.39,54.00 438.28,54.26 439.17,54.52 440.06,54.79 440.93,55.06 441.80,55.34 442.66,55.63 443.52,55.92 444.36,56.22 445.20,56.53 446.03,56.85 446.86,57.17 447.67,57.49 448.48,57.83 449.28,58.17 450.06,58.51 450.84,58.87 451.61,59.23 452.37,59.59 453.12,59.97 453.86,60.34 454.59,60.73 455.31,61.12 456.02,61.52 456.71,61.92 457.40,62.33 458.07,62.75 458.73,63.17 459.38,63.60 460.02,64.03 460.64,64.47 461.25,64.92 461.85,65.37 462.44,65.82 463.01,66.29 463.56,66.75 464.10,67.23 464.63,67.71 465.15,68.19 465.64,68.68 466.13,69.18 466.59,69.68 467.05,70.18 467.48,70.69 467.90,71.21 468.30,71.73 468.69,72.25 469.06,72.78 469.41,73.31 469.74,73.85 470.05,74.39 470.35,74.94 470.63,75.49 470.89,76.04 471.13,76.60 471.35,77.16 471.55,77.73 471.73,78.30 471.89,78.87 472.03,79.44 472.15,80.02 472.25,80.60 472.33,81.18 472.39,81.77 472.42,82.36 472.44,82.95 472.43,83.54 472.40,84.13 472.34,84.73 472.27,85.32 472.17,85.92 472.04,86.52 471.90,87.12 471.73,87.72 471.54,88.32 471.32,88.91 471.08,89.51 470.81,90.11 470.53,90.71 470.21,91.31 469.87,91.91 469.51,92.50 469.12,93.10 468.71,93.69 468.27,94.28 467.81,94.87 467.33,95.45 466.81,96.03 466.28,96.61 465.71,97.19 465.13,97.76 464.51,98.33 463.88,98.89 463.21,99.45 462.53,100.01 461.81,100.56 461.08,101.10 460.32,101.64 459.53,102.18 458.72,102.70 457.88,103.22 457.03,103.74 456.14,104.25 455.24,104.75 454.31,105.24 453.35,105.72 452.38,106.20 451.38,106.67 450.36,107.12 449.32,107.57 448.25,108.02 447.17,108.45 446.06,108.87 444.94,109.28 443.79,109.68 442.62,110.07 441.44,110.45 440.24,110.82 439.01,111.18 437.77,111.52 436.52,111.86 435.24,112.18 433.95,112.49 432.65,112.79 431.33,113.07 429.99,113.34 428.64,113.60 427.28,113.85 425.91,114.08 424.52,114.30 423.13,114.51 421.72,114.70 420.30,114.88 418.88,115.04 417.44,115.19 416.00,115.32 414.55,115.44 413.10,115.55 411.64,115.64 410.17,115.72 408.70,115.78 407.23,115.83 405.76,115.86 404.28,115.88 402.80,115.88 401.33,115.87 399.85,115.84" fill="none" stroke="#D99694" stroke-width="0.6" stroke-opacity="0.8"/>
<polyline points="394.82,115.41 393.37,115.37 391.91,115.31 390.46,115.24 389.02,115.16 387.58,115.06 386.14,114.95 384.71,114.82 383.29,114.68 381.88,114.53 380.47,114.36 379.07,114.18 377.68,113.99 376.30,113.78 374.94,113.56 373.58,113.32 372.23,113.07 370.90,112.81 369.58,112.54 368.28,112.26 366.99,111.96 365.72,111.65 364.46,111.33 363.21,110.99 361.99,110.65 360.78,110.29 359.59,109.93 358.41,109.55 357.26,109.16 356.12,108.76 355.00,108.36 353.91,107.94 352.83,107.51 351.78,107.08 350.74,106.63 349.73,106.18 348.73,105.71 347.76,105.24 346.82,104.76 345.89,104.28 344.99,103.79 344.11,103.29 343.25,102.78 342.42,102.26 341.61,101.74 340.82,101.22 340.06,100.69 339.32,100.15 338.60,99.61 337.91,99.06 337.24,98.51 336.60,97.95 335.98,97.39" fill="none" stroke="#C3D69B" stroke-width="0.6" stroke-opacity="0.8"/>
<polyline points="335.98,97.39 335.38,96.82 334.81,96.25 334.25,95.67 333.73,95.09 333.23,94.50 332.75,93.91 332.30,93.33 331.87,92.73" fill="none" stroke="#B3A2C7" stroke-width="0.6" stroke-opacity="0.8"/>
<polyline points="331.87,92.73 331.49,92.17 331.13,91.61 330.80,91.04 330.48,90.48 330.19,89.91 329.92,89.34 329.67,88.77 329.44,88.20 329.23,87.64 329.05,87.07 328.89,86.50 328.74,85.93" fill="none" stroke="#93CDDD" stroke-width="0.6" stroke-opacity="0.8"/>
<polyline points="328.74,85.93 328.62,85.36 328.52,84.79 328.44,84.22 328.38,83.65 328.34,83.08 328.32,82.51 328.33,81.95 328.35,81.39 328.39,80.83 328.46,80.27 328.54,79.71 328.64,79.16 328.76,78.61 328.90,78.06 329.06,77.51 329.23,76.97 329.43,76.43 329.64,75.90 329.87,75.37" fill="none" stroke="#FAC090" stroke-width="0.6" stroke-opacity="0.8"/>
<polyline points="329.87,75.37 330.11,74.85 330.37,74.34 330.65,73.83 330.94,73.33 331.24,72.83 331.56,72.33 331.90,71.84 332.25,71.35 332.62,70.87 333.00,70.39 333.39,69.91" fill="none" stroke="#8094AC" stroke-width="0.6" stroke-opacity="0.8"/>
<polyline points="333.39,69.91 333.81,69.43 334.24,68.96 334.68,68.49 335.14,68.03 335.62,67.56 336.10,67.11" fill="none" stroke="#AD807F" stroke-width="0.6" stroke-opacity="0.8"/>
<polyline points="336.10,67.11 336.61,66.65 337.14,66.19 337.67,65.74 338.23,65.30 338.79,64.86 339.37,64.43 339.95,64.00 340.55,63.57 341.17,63.16 341.79,62.75 342.43,62.34 343.08,61.94 343.73,61.54 344.40,61.16 345.08,60.77 345.77,60.40 346.47,60.02 347.18,59.66 347.90,59.30 348.63,58.95" fill="none" stroke="#9FAC83" stroke-width="0.6" stroke-opacity="0.8"/>
<polyline points="348.63,58.95 349.21,58.67 349.79,58.41 350.38,58.14" fill="none" stroke="#9489A1" stroke-width="0.6" stroke-opacity="0.8"/>
<polyline points="350.38,58.14 351.15,57.80 351.93,57.47 352.73,57.14 353.53,56.82 354.33,56.51 355.15,56.20 355.97,55.90 356.81,55.61 357.65,55.32 358.49,55.04 359.35,54.76 360.21,54.49 361.07,54.23 361.95,53.97 362.83,53.73 363.71,53.48 364.60,53.25 365.50,53.02 366.40,52.79 367.31,52.58 368.23,52.37 369.15,52.17 370.07,51.97 371.00,51.78 371.93,51.60 372.87,51.42 373.81,51.25 374.75,51.09 375.70,50.93 376.65,50.78 377.61,50.64 378.57,50.50 379.53,50.37 380.50,50.25 381.47,50.13 382.44,50.02 383.41,49.92 384.39,49.82 385.36,49.73 386.34,49.65 387.32,49.57 388.31,49.50 389.29,49.44 390.28,49.38 391.27,49.33 392.25,49.28 393.24,49.25 394.23,49.22 395.23,49.19 396.22,49.18 397.21,49.17 398.20,49.16" fill="none" stroke="#7DA6B0" stroke-width="0.6" stroke-opacity="0.8"/>
<polyline points="143.60,51.40 139.80,55.70" fill="none" stroke="#333333" stroke-width="0.75"/>
<polyline points="93.60,49.40 101.00,60.00" fill="none" stroke="#333333" stroke-width="0.75"/>
<polyline points="91.00,61.20 98.50,62.00" fill="none" stroke="#333333" stroke-width="0.75"/>
<polyline points="62.00,64.10 88.50,65.30" fill="none" stroke="#333333" stroke-width="0.75"/>
<polyline points="71.00,74.20 74.30,73.80" fill="none" stroke="#333333" stroke-width="0.75"/>
<polyline points="65.40,108.70 69.30,107.00" fill="none" stroke="#333333" stroke-width="0.75"/>
<polyline points="111.50,42.20 109.50,42.20 109.50,58.60" fill="none" stroke="#333333" stroke-width="0.75"/>
<polyline points="123.30,53.80 123.30,56.50" fill="none" stroke="#333333" stroke-width="0.75"/>
<polyline points="333.60,42.70 348.20,58.20" fill="none" stroke="#333333" stroke-width="0.75"/>
<polyline points="322.70,54.00 341.00,62.70" fill="none" stroke="#333333" stroke-width="0.75"/>
<polyline points="322.70,62.70 334.50,68.20" fill="none" stroke="#333333" stroke-width="0.75"/>
<polyline points="322.70,72.70 330.00,72.20" fill="none" stroke="#333333" stroke-width="0.75"/>
<polyline points="326.80,105.70 330.50,105.50" fill="none" stroke="#333333" stroke-width="0.75"/>
<polyline points="313.50,117.80 320.00,117.80" fill="none" stroke="#333333" stroke-width="0.75"/>
<text transform="translate(144.70 52.70) scale(1 1.116)" font-size="7.31" letter-spacing="0.239" text-anchor="start" fill="#000">1.92%</text>
<text transform="translate(178.00 92.30) scale(1 1.116)" font-size="7.31" letter-spacing="0.239" text-anchor="start" fill="#000">49.62%</text>
<text transform="translate(87.40 108.50) scale(1 1.116)" font-size="7.31" letter-spacing="0.239" text-anchor="start" fill="#000">17.31%</text>
<text transform="translate(44.40 109.80) scale(1 1.116)" font-size="7.31" letter-spacing="0.239" text-anchor="start" fill="#000">1.92%</text>
<text transform="translate(45.00 89.80) scale(1 1.116)" font-size="7.31" letter-spacing="0.239" text-anchor="start" fill="#000">5.38%</text>
<text transform="translate(49.40 74.90) scale(1 1.116)" font-size="7.31" letter-spacing="0.239" text-anchor="start" fill="#000">6.92%</text>
<text transform="translate(39.60 65.00) scale(1 1.116)" font-size="7.31" letter-spacing="0.239" text-anchor="start" fill="#000">4.62%</text>
<text transform="translate(69.60 62.50) scale(1 1.116)" font-size="7.31" letter-spacing="0.239" text-anchor="start" fill="#000">0.77%</text>
<text transform="translate(73.00 51.10) scale(1 1.116)" font-size="7.31" letter-spacing="0.239" text-anchor="start" fill="#000">3.46%</text>
<text transform="translate(110.80 44.40) scale(1 1.116)" font-size="7.31" letter-spacing="0.239" text-anchor="start" fill="#000">0.38%</text>
<text transform="translate(112.00 53.50) scale(1 1.116)" font-size="7.31" letter-spacing="0.239" text-anchor="start" fill="#000">7.69%</text>
<text transform="translate(396.60 47.10) scale(1 1.116)" font-size="7.31" letter-spacing="0.239" text-anchor="start" fill="#000">4.11%</text>
<text transform="translate(442.90 87.40) scale(1 1.116)" font-size="7.31" letter-spacing="0.239" text-anchor="start" fill="#000">46.52%</text>
<text transform="translate(354.50 106.90) scale(1 1.116)" font-size="7.31" letter-spacing="0.239" text-anchor="start" fill="#000">14.24%</text>
<text transform="translate(311.90 118.90) scale(1 1.116)" font-size="7.31" letter-spacing="0.239" text-anchor="start" fill="#000">2.22%</text>
<text transform="translate(305.00 106.40) scale(1 1.116)" font-size="7.31" letter-spacing="0.239" text-anchor="start" fill="#000">3.16%</text>
<text transform="translate(305.10 85.00) scale(1 1.116)" font-size="7.31" letter-spacing="0.239" text-anchor="start" fill="#000">5.06%</text>
<text transform="translate(301.00 74.10) scale(1 1.116)" font-size="7.31" letter-spacing="0.239" text-anchor="start" fill="#000">2.85%</text>
<text transform="translate(301.50 65.00) scale(1 1.116)" font-size="7.31" letter-spacing="0.239" text-anchor="start" fill="#000">1.58%</text>
<text transform="translate(301.00 56.00) scale(1 1.116)" font-size="7.31" letter-spacing="0.239" text-anchor="start" fill="#000">5.38%</text>
<text transform="translate(311.30 44.70) scale(1 1.116)" font-size="7.31" letter-spacing="0.239" text-anchor="start" fill="#000">0.63%</text>
<text transform="translate(368.20 61.40) scale(1 1.116)" font-size="7.31" letter-spacing="0.239" text-anchor="start" fill="#000">14.24%</text>
<text transform="translate(5.20 12.10) scale(1 1.021)" font-size="11.40" letter-spacing="0.372" text-anchor="start" fill="#000">a</text>
<text transform="translate(284.20 11.80) scale(1 1.021)" font-size="11.40" letter-spacing="0.372" text-anchor="start" fill="#000">b</text>
<text transform="translate(5.20 209.80) scale(1 1.021)" font-size="11.40" letter-spacing="0.372" text-anchor="start" fill="#000">c</text>
<text transform="translate(280.90 212.10) scale(1 1.021)" font-size="11.40" letter-spacing="0.372" text-anchor="start" fill="#000">d</text>
<text transform="translate(118.70 16.90) scale(1 1.116)" font-size="8.93" letter-spacing="0.291" text-anchor="start" fill="#000">B73</text>
<text transform="translate(390.30 16.90) scale(1 1.116)" font-size="8.93" letter-spacing="0.291" text-anchor="start" fill="#000">X178</text>
<rect x="9.00" y="147.90" width="3" height="3" fill="#4F81BD"/>
<text transform="translate(14.60 152.20) scale(1 1.116)" font-size="7.31" letter-spacing="0.239" text-anchor="start" fill="#000">Cell wall</text>
<rect x="102.70" y="147.90" width="3" height="3" fill="#C0504D"/>
<text transform="translate(108.30 152.20) scale(1 1.116)" font-size="7.31" letter-spacing="0.239" text-anchor="start" fill="#000">Chloroplast</text>
<rect x="197.30" y="147.90" width="3" height="3" fill="#9BBB59"/>
<text transform="translate(202.90 152.20) scale(1 1.116)" font-size="7.31" letter-spacing="0.239" text-anchor="start" fill="#000">Cytoplasm</text>
<rect x="9.00" y="157.68" width="3" height="3" fill="#8064A2"/>
<text transform="translate(14.60 161.98) scale(1 1.116)" font-size="7.31" letter-spacing="0.239" text-anchor="start" fill="#000">Endoplasmic reticulum</text>
<rect x="102.70" y="157.68" width="3" height="3" fill="#4BACC6"/>
<text transform="translate(108.30 161.98) scale(1 1.116)" font-size="7.31" letter-spacing="0.239" text-anchor="start" fill="#000">Extracellular region</text>
<rect x="197.30" y="157.68" width="3" height="3" fill="#F79646"/>
<text transform="translate(202.90 161.98) scale(1 1.116)" font-size="7.31" letter-spacing="0.239" text-anchor="start" fill="#000">Mitochondrion</text>
<rect x="9.00" y="167.46" width="3" height="3" fill="#2C4D75"/>
<text transform="translate(14.60 171.76) scale(1 1.116)" font-size="7.31" letter-spacing="0.239" text-anchor="start" fill="#000">Nucleus</text>
<rect x="102.70" y="167.46" width="3" height="3" fill="#772C2A"/>
<text transform="translate(108.30 171.76) scale(1 1.116)" font-size="7.31" letter-spacing="0.239" text-anchor="start" fill="#000">Peroxisome</text>
<rect x="197.30" y="167.46" width="3" height="3" fill="#5F7530"/>
<text transform="translate(202.90 171.76) scale(1 1.116)" font-size="7.31" letter-spacing="0.239" text-anchor="start" fill="#000">Plasma membrane</text>
<rect x="9.00" y="177.24" width="3" height="3" fill="#4D3B62"/>
<text transform="translate(14.60 181.54) scale(1 1.116)" font-size="7.31" letter-spacing="0.239" text-anchor="start" fill="#000">Ribosome</text>
<rect x="102.70" y="177.24" width="3" height="3" fill="#276A7C"/>
<text transform="translate(108.30 181.54) scale(1 1.116)" font-size="7.31" letter-spacing="0.239" text-anchor="start" fill="#000">Unknown</text>
<rect x="283.50" y="146.20" width="3" height="3" fill="#4F81BD"/>
<text transform="translate(289.10 150.50) scale(1 1.116)" font-size="7.31" letter-spacing="0.239" text-anchor="start" fill="#000">Cell wall</text>
<rect x="378.60" y="146.20" width="3" height="3" fill="#C0504D"/>
<text transform="translate(384.20 150.50) scale(1 1.116)" font-size="7.31" letter-spacing="0.239" text-anchor="start" fill="#000">Chloroplast</text>
<rect x="474.20" y="146.20" width="3" height="3" fill="#9BBB59"/>
<text transform="translate(479.80 150.50) scale(1 1.116)" font-size="7.31" letter-spacing="0.239" text-anchor="start" fill="#000">Cytoplasm</text>
<rect x="283.50" y="155.98" width="3" height="3" fill="#8064A2"/>
<text transform="translate(289.10 160.28) scale(1 1.116)" font-size="7.31" letter-spacing="0.239" text-anchor="start" fill="#000">Endoplasmic reticulum</text>
<rect x="378.60" y="155.98" width="3" height="3" fill="#4BACC6"/>
<text transform="translate(384.20 160.28) scale(1 1.116)" font-size="7.31" letter-spacing="0.239" text-anchor="start" fill="#000">Extracellular region</text>
<rect x="474.20" y="155.98" width="3" height="3" fill="#F79646"/>
<text transform="translate(479.80 160.28) scale(1 1.116)" font-size="7.31" letter-spacing="0.239" text-anchor="start" fill="#000">Mitochondrion</text>
<rect x="283.50" y="165.76" width="3" height="3" fill="#2C4D75"/>
<text transform="translate(289.10 170.06) scale(1 1.116)" font-size="7.31" letter-spacing="0.239" text-anchor="start" fill="#000">Nucleus</text>
<rect x="378.60" y="165.76" width="3" height="3" fill="#772C2A"/>
<text transform="translate(384.20 170.06) scale(1 1.116)" font-size="7.31" letter-spacing="0.239" text-anchor="start" fill="#000">Peroxisome</text>
<rect x="474.20" y="165.76" width="3" height="3" fill="#5F7530"/>
<text transform="translate(479.80 170.06) scale(1 1.116)" font-size="7.31" letter-spacing="0.239" text-anchor="start" fill="#000">Plasma membrane</text>
<rect x="283.50" y="175.54" width="3" height="3" fill="#4D3B62"/>
<text transform="translate(289.10 179.84) scale(1 1.116)" font-size="7.31" letter-spacing="0.239" text-anchor="start" fill="#000">Ribosome</text>
<rect x="378.60" y="175.54" width="3" height="3" fill="#276A7C"/>
<text transform="translate(384.20 179.84) scale(1 1.116)" font-size="7.31" letter-spacing="0.239" text-anchor="start" fill="#000">Unknown</text>
<rect x="93.50" y="225.90" width="32.40" height="7.50" fill="#4F81BD"/>
<rect x="125.90" y="225.90" width="129.60" height="7.50" fill="#C0504D"/>
<text transform="translate(86.74 231.75) scale(1 1.116)" font-size="7.31" letter-spacing="0.239" text-anchor="end" fill="#000">Cell wall</text>
<rect x="93.50" y="245.49" width="121.50" height="7.50" fill="#4F81BD"/>
<rect x="215.00" y="245.49" width="40.50" height="7.50" fill="#C0504D"/>
<text transform="translate(86.74 251.34) scale(1 1.116)" font-size="7.31" letter-spacing="0.239" text-anchor="end" fill="#000">Chloroplast</text>
<rect x="93.50" y="265.08" width="53.95" height="7.50" fill="#4F81BD"/>
<rect x="147.45" y="265.08" width="108.05" height="7.50" fill="#C0504D"/>
<text transform="translate(86.74 270.93) scale(1 1.116)" font-size="7.31" letter-spacing="0.239" text-anchor="end" fill="#000">Cytoplasm</text>
<rect x="93.50" y="284.67" width="64.80" height="7.50" fill="#4F81BD"/>
<rect x="158.30" y="284.67" width="97.20" height="7.50" fill="#C0504D"/>
<text transform="translate(86.74 290.52) scale(1 1.116)" font-size="7.31" letter-spacing="0.239" text-anchor="end" fill="#000">Endoplasmic reticulum</text>
<rect x="93.50" y="304.26" width="23.17" height="7.50" fill="#4F81BD"/>
<rect x="116.67" y="304.26" width="138.83" height="7.50" fill="#C0504D"/>
<text transform="translate(86.74 310.11) scale(1 1.116)" font-size="7.31" letter-spacing="0.239" text-anchor="end" fill="#000">Extracellular region</text>
<rect x="93.50" y="323.85" width="90.07" height="7.50" fill="#4F81BD"/>
<rect x="183.57" y="323.85" width="71.93" height="7.50" fill="#C0504D"/>
<text transform="translate(86.74 329.70) scale(1 1.116)" font-size="7.31" letter-spacing="0.239" text-anchor="end" fill="#000">Mitochondrion</text>
<rect x="93.50" y="343.44" width="40.50" height="7.50" fill="#4F81BD"/>
<rect x="134.00" y="343.44" width="121.50" height="7.50" fill="#C0504D"/>
<text transform="translate(86.74 349.29) scale(1 1.116)" font-size="7.31" letter-spacing="0.239" text-anchor="end" fill="#000">Nucleus</text>
<rect x="93.50" y="363.03" width="162.00" height="7.50" fill="#4F81BD"/>
<text transform="translate(86.74 368.88) scale(1 1.116)" font-size="7.31" letter-spacing="0.239" text-anchor="end" fill="#000">Peroxisome</text>
<rect x="93.50" y="382.62" width="108.05" height="7.50" fill="#4F81BD"/>
<rect x="201.55" y="382.62" width="53.95" height="7.50" fill="#C0504D"/>
<text transform="translate(86.74 388.47) scale(1 1.116)" font-size="7.31" letter-spacing="0.239" text-anchor="end" fill="#000">Plasma membrane</text>
<rect x="93.50" y="402.21" width="162.00" height="7.50" fill="#C0504D"/>
<text transform="translate(86.74 408.06) scale(1 1.116)" font-size="7.31" letter-spacing="0.239" text-anchor="end" fill="#000">Ribosome</text>
<rect x="93.50" y="421.80" width="48.60" height="7.50" fill="#4F81BD"/>
<rect x="142.10" y="421.80" width="113.40" height="7.50" fill="#C0504D"/>
<text transform="translate(86.74 427.65) scale(1 1.116)" font-size="7.31" letter-spacing="0.239" text-anchor="end" fill="#000">Unknown</text>
<line x1="93.50" y1="434.70" x2="255.50" y2="434.70" stroke="#8A8A8A" stroke-width="1.1"/>
<line x1="93.50" y1="219.60" x2="93.50" y2="436.90" stroke="#505050" stroke-width="0.9"/>
<line x1="93.50" y1="434.70" x2="93.50" y2="436.70" stroke="#868686" stroke-width="0.9"/>
<text transform="translate(93.62 447.00) scale(1 1.116)" font-size="7.31" letter-spacing="0.239" text-anchor="middle" fill="#000">0%</text>
<line x1="125.90" y1="434.70" x2="125.90" y2="436.70" stroke="#868686" stroke-width="0.9"/>
<text transform="translate(126.02 447.00) scale(1 1.116)" font-size="7.31" letter-spacing="0.239" text-anchor="middle" fill="#000">20%</text>
<line x1="158.30" y1="434.70" x2="158.30" y2="436.70" stroke="#868686" stroke-width="0.9"/>
<text transform="translate(158.42 447.00) scale(1 1.116)" font-size="7.31" letter-spacing="0.239" text-anchor="middle" fill="#000">40%</text>
<line x1="190.70" y1="434.70" x2="190.70" y2="436.70" stroke="#868686" stroke-width="0.9"/>
<text transform="translate(190.82 447.00) scale(1 1.116)" font-size="7.31" letter-spacing="0.239" text-anchor="middle" fill="#000">60%</text>
<line x1="223.10" y1="434.70" x2="223.10" y2="436.70" stroke="#868686" stroke-width="0.9"/>
<text transform="translate(223.22 447.00) scale(1 1.116)" font-size="7.31" letter-spacing="0.239" text-anchor="middle" fill="#000">80%</text>
<line x1="255.50" y1="434.70" x2="255.50" y2="436.70" stroke="#868686" stroke-width="0.9"/>
<text transform="translate(255.62 447.00) scale(1 1.116)" font-size="7.31" letter-spacing="0.239" text-anchor="middle" fill="#000">100%</text>
<text transform="translate(117.40 205.60) scale(1 1.116)" font-size="8.93" letter-spacing="0.291" text-anchor="start" fill="#000">B73</text>
<rect x="193.10" y="204" width="3" height="3" fill="#4F81BD"/>
<text transform="translate(198.30 207.90) scale(1 1.116)" font-size="6.93" letter-spacing="0.226" text-anchor="start" fill="#000">Down regulated</text>
<rect x="193.10" y="215.6" width="3" height="3" fill="#C0504D"/>
<text transform="translate(198.30 219.50) scale(1 1.116)" font-size="6.93" letter-spacing="0.226" text-anchor="start" fill="#000">Up regulated</text>
<rect x="360.60" y="227.00" width="12.48" height="7.50" fill="#4F81BD"/>
<rect x="373.08" y="227.00" width="149.62" height="7.50" fill="#C0504D"/>
<text transform="translate(354.24 232.85) scale(1 1.116)" font-size="7.31" letter-spacing="0.239" text-anchor="end" fill="#000">Cell wall</text>
<rect x="360.60" y="246.54" width="103.74" height="7.50" fill="#4F81BD"/>
<rect x="464.34" y="246.54" width="58.36" height="7.50" fill="#C0504D"/>
<text transform="translate(354.24 252.39) scale(1 1.116)" font-size="7.31" letter-spacing="0.239" text-anchor="end" fill="#000">Chloroplast</text>
<rect x="360.60" y="266.08" width="79.43" height="7.50" fill="#4F81BD"/>
<rect x="440.03" y="266.08" width="82.67" height="7.50" fill="#C0504D"/>
<text transform="translate(354.24 271.93) scale(1 1.116)" font-size="7.31" letter-spacing="0.239" text-anchor="end" fill="#000">Cytoplasm</text>
<rect x="360.60" y="285.62" width="23.34" height="7.50" fill="#4F81BD"/>
<rect x="383.94" y="285.62" width="138.76" height="7.50" fill="#C0504D"/>
<text transform="translate(354.24 291.47) scale(1 1.116)" font-size="7.31" letter-spacing="0.239" text-anchor="end" fill="#000">Endoplasmic reticulum</text>
<rect x="360.60" y="305.16" width="16.05" height="7.50" fill="#4F81BD"/>
<rect x="376.65" y="305.16" width="146.05" height="7.50" fill="#C0504D"/>
<text transform="translate(354.24 311.01) scale(1 1.116)" font-size="7.31" letter-spacing="0.239" text-anchor="end" fill="#000">Extracellular region</text>
<rect x="360.60" y="324.70" width="101.47" height="7.50" fill="#4F81BD"/>
<rect x="462.07" y="324.70" width="60.63" height="7.50" fill="#C0504D"/>
<text transform="translate(354.24 330.55) scale(1 1.116)" font-size="7.31" letter-spacing="0.239" text-anchor="end" fill="#000">Mitochondrion</text>
<rect x="360.60" y="344.24" width="36.15" height="7.50" fill="#4F81BD"/>
<rect x="396.75" y="344.24" width="125.95" height="7.50" fill="#C0504D"/>
<text transform="translate(354.24 350.09) scale(1 1.116)" font-size="7.31" letter-spacing="0.239" text-anchor="end" fill="#000">Nucleus</text>
<rect x="360.60" y="363.78" width="64.84" height="7.50" fill="#4F81BD"/>
<rect x="425.44" y="363.78" width="97.26" height="7.50" fill="#C0504D"/>
<text transform="translate(354.24 369.63) scale(1 1.116)" font-size="7.31" letter-spacing="0.239" text-anchor="end" fill="#000">Peroxisome</text>
<rect x="360.60" y="383.32" width="47.82" height="7.50" fill="#4F81BD"/>
<rect x="408.42" y="383.32" width="114.28" height="7.50" fill="#C0504D"/>
<text transform="translate(354.24 389.17) scale(1 1.116)" font-size="7.31" letter-spacing="0.239" text-anchor="end" fill="#000">Plasma membrane</text>
<rect x="360.60" y="402.86" width="162.10" height="7.50" fill="#4F81BD"/>
<text transform="translate(354.24 408.71) scale(1 1.116)" font-size="7.31" letter-spacing="0.239" text-anchor="end" fill="#000">Ribosome</text>
<rect x="360.60" y="422.40" width="43.60" height="7.50" fill="#4F81BD"/>
<rect x="404.20" y="422.40" width="118.50" height="7.50" fill="#C0504D"/>
<text transform="translate(354.24 428.25) scale(1 1.116)" font-size="7.31" letter-spacing="0.239" text-anchor="end" fill="#000">Unknown</text>
<line x1="360.60" y1="435.20" x2="522.70" y2="435.20" stroke="#8A8A8A" stroke-width="1.1"/>
<line x1="360.60" y1="220.80" x2="360.60" y2="437.40" stroke="#505050" stroke-width="0.9"/>
<line x1="360.60" y1="435.20" x2="360.60" y2="437.20" stroke="#868686" stroke-width="0.9"/>
<text transform="translate(360.72 447.50) scale(1 1.116)" font-size="7.31" letter-spacing="0.239" text-anchor="middle" fill="#000">0%</text>
<line x1="393.02" y1="435.20" x2="393.02" y2="437.20" stroke="#868686" stroke-width="0.9"/>
<text transform="translate(393.14 447.50) scale(1 1.116)" font-size="7.31" letter-spacing="0.239" text-anchor="middle" fill="#000">20%</text>
<line x1="425.44" y1="435.20" x2="425.44" y2="437.20" stroke="#868686" stroke-width="0.9"/>
<text transform="translate(425.56 447.50) scale(1 1.116)" font-size="7.31" letter-spacing="0.239" text-anchor="middle" fill="#000">40%</text>
<line x1="457.86" y1="435.20" x2="457.86" y2="437.20" stroke="#868686" stroke-width="0.9"/>
<text transform="translate(457.98 447.50) scale(1 1.116)" font-size="7.31" letter-spacing="0.239" text-anchor="middle" fill="#000">60%</text>
<line x1="490.28" y1="435.20" x2="490.28" y2="437.20" stroke="#868686" stroke-width="0.9"/>
<text transform="translate(490.40 447.50) scale(1 1.116)" font-size="7.31" letter-spacing="0.239" text-anchor="middle" fill="#000">80%</text>
<line x1="522.70" y1="435.20" x2="522.70" y2="437.20" stroke="#868686" stroke-width="0.9"/>
<text transform="translate(522.82 447.50) scale(1 1.116)" font-size="7.31" letter-spacing="0.239" text-anchor="middle" fill="#000">100%</text>
<text transform="translate(389.30 206.80) scale(1 1.116)" font-size="8.93" letter-spacing="0.291" text-anchor="start" fill="#000">X178</text>
<rect x="459.50" y="204" width="3" height="3" fill="#4F81BD"/>
<text transform="translate(464.70 207.90) scale(1 1.116)" font-size="6.93" letter-spacing="0.226" text-anchor="start" fill="#000">Down regulated</text>
<rect x="459.50" y="215.6" width="3" height="3" fill="#C0504D"/>
<text transform="translate(464.70 219.50) scale(1 1.116)" font-size="6.93" letter-spacing="0.226" text-anchor="start" fill="#000">Up regulated</text>
</g>
</svg>
</body></html>
